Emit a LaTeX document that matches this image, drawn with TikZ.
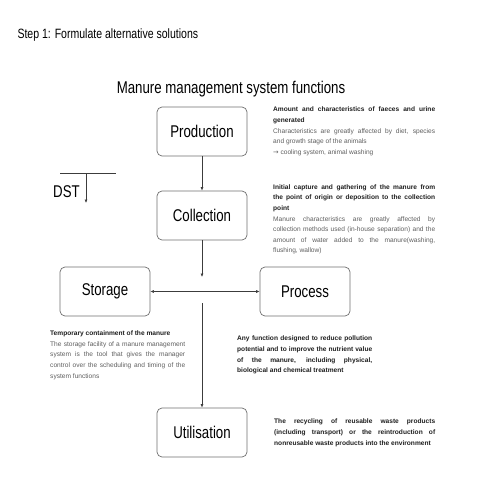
\documentclass[tikz,border=0pt]{standalone}
\usepackage{fontspec}
\setmainfont{Liberation Sans}
\newfontfamily\narrowfont[FakeStretch=0.78]{Liberation Sans}
\newfontfamily\arrowfont{DejaVu Sans}
\usetikzlibrary{arrows.meta}
\definecolor{boxline}{HTML}{6E6E6E}
\definecolor{flowline}{HTML}{3C3C3C}
\definecolor{desctext}{HTML}{5E5E5E}
\definecolor{descbold}{HTML}{1E1E1E}
\newcommand\DescBlock[4]{
  \node[desc,text width=#3] (#1) at #2 {\hyphenpenalty=10000 \exhyphenpenalty=10000 \parindent=0pt #4};
}

\begin{document}
\begin{tikzpicture}[x=1pt,y=-1pt,
  func/.style={draw=boxline,line width=0.7pt,rounded corners=5pt,
    minimum width=90pt,minimum height=49pt,inner sep=0pt,
    font=\narrowfont\fontsize{17}{20}\selectfont},
  desc/.style={anchor=north west,inner sep=0pt,align=justify,text=descbold,
    font=\fontsize{6.6}{10.6}\selectfont},
  flow/.style={draw=flowline,line width=0.6pt},
  tip/.style={-{Latex[length=3.5pt,width=3pt]}}]
\useasboundingbox (0,0) rectangle (480,480);
\node[anchor=base west,font=\narrowfont\fontsize{13.5}{16}\selectfont] (step) at (14,38.3) {Step 1: Formulate alternative solutions};
\node[anchor=base,font=\narrowfont\fontsize{17}{20}\selectfont] (title) at (231,93.3) {Manure management system functions};
% function boxes
\node[func] (prod) at (202,131.5) {Production};
\node[func] (coll) at (202,215.5) {Collection};
\node[func] (stor) at (105,291.5) {Storage};
\node[func] (proc) at (305,291.5) {Process};
\node[func] (util) at (202,432.5) {Utilisation};
\coordinate (splitin) at (202,277);
\coordinate (splitout) at (202,303);
\draw[flow,tip] (prod.south) -- (coll.north);
\draw[flow,tip] (coll.south) -- (splitin);
\draw[flow,{Latex[length=3.5pt,width=3pt]}-{Latex[length=3.5pt,width=3pt]}] (stor.east) -- (proc.west);
\draw[flow,tip] (splitout) -- (util.north);
% DST
\node[anchor=base west,inner sep=0pt,font=\narrowfont\fontsize{17}{20}\selectfont] (dst) at (53,197) {DST};
\coordinate (dstl) at (60,173);
\coordinate (dstr) at (116,173);
\coordinate (dsta) at (86,173);
\coordinate (dstb) at (86,203);
\draw[flow] (dstl) -- (dstr);
\draw[flow,tip] (dsta) -- (dstb);
% descriptions
\DescBlock{prodtext}{(273,107)}{162pt}{\textbf{Amount and characteristics of faeces and urine\linebreak generated}\par
  {\color{desctext}Characteristics are greatly affected by diet, species\linebreak and growth stage of the animals\par
  {\arrowfont→} cooling system, animal washing}}
\DescBlock{colltext}{(273,184.3)}{162pt}{\textbf{Initial capture and gathering of the manure from\linebreak the point of origin or deposition to the collection\linebreak point}\par
  {\color{desctext}Manure characteristics are greatly affected by\linebreak collection methods used (in-house separation) and the\linebreak amount of water added to the manure(washing,\linebreak flushing, wallow)}}
\DescBlock{stortext}{(50,330.7)}{135pt}{\textbf{Temporary containment of the manure}\par
  {\color{desctext}The storage facility of a manure management\linebreak system is the tool that gives the manager\linebreak control over the scheduling and timing of the\linebreak system functions}}
\DescBlock{proctext}{(237,336)}{135pt}{\textbf{Any function designed to reduce pollution\linebreak potential and to improve the nutrient value\linebreak of the manure, including physical,\linebreak biological and chemical treatment}}
\DescBlock{utiltext}{(274,419)}{161pt}{\textbf{The recycling of reusable waste products\linebreak (including transport) or the reintroduction of\linebreak nonreusable waste products into the environment}}
\end{tikzpicture}
\end{document}
